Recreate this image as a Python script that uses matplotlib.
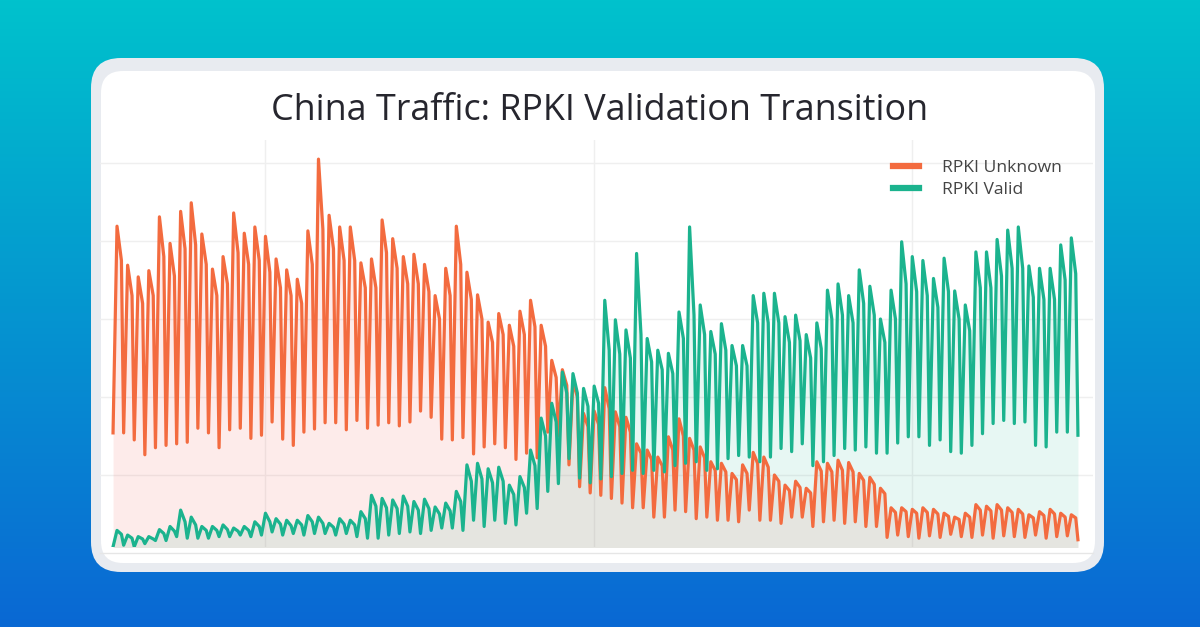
import numpy as np
import pandas as pd
import matplotlib
matplotlib.use("Agg")
import matplotlib.pyplot as plt
import matplotlib.dates as mdates
from matplotlib.patches import FancyBboxPatch
from matplotlib.lines import Line2D

# daily traffic, one trough per local night (relative units)
start = pd.Timestamp("2024-02-15 16:00")

unknown_low = [1.54, 1.54, 1.45, 1.26, 1.35, 1.38, 1.40, 1.42, 1.60, 1.54,
               1.35, 1.58, 1.60, 1.47, 1.51, 1.68, 1.46, 1.38, 1.55, 1.59,
               1.67, 1.67, 1.58, 1.70, 1.60, 1.64, 1.67, 1.63, 1.68, 1.82,
               1.74, 1.46, 1.45, 1.48, 1.27, 1.36, 1.40, 1.35, 1.20, 1.28,
               1.22, 1.55, 1.50, 1.13, 0.85, 0.77, 0.74, 0.70, 0.64, 0.58,
               0.58, 0.46, 0.46, 0.55, 0.53, 0.44, 0.46, 0.42, 0.42, 0.40,
               0.55, 0.42, 0.42, 0.38, 0.46, 0.46, 0.34, 0.40, 0.42, 0.38,
               0.40, 0.34, 0.34, 0.20, 0.23, 0.21, 0.19, 0.22, 0.20, 0.24,
               0.21, 0.20, 0.23, 0.19, 0.22, 0.21, 0.20, 0.23, 0.19, 0.21,
               0.22, 0.17]
unknown_peak = [4.19, 3.69, 3.54, 3.62, 4.31, 3.97, 4.38, 4.49, 4.09, 3.64,
                3.80, 4.36, 4.10, 4.18, 4.06, 3.77, 3.63, 3.51, 4.13, 5.05,
                4.33, 4.18, 4.18, 3.72, 3.77, 4.27, 4.03, 3.80, 3.83, 3.70,
                3.30, 3.65, 4.19, 3.60, 3.31, 2.96, 3.07, 2.92, 3.10, 3.24,
                2.92, 2.47, 2.35, 2.20, 1.79, 1.82, 2.12, 1.81, 1.74, 1.40,
                1.32, 1.23, 1.49, 1.72, 1.47, 1.36, 1.17, 1.15, 1.02, 1.13,
                1.29, 1.23, 1.00, 0.87, 0.92, 0.83, 1.17, 1.15, 1.19, 1.16,
                1.02, 0.97, 0.83, 0.58, 0.58, 0.56, 0.58, 0.56, 0.51, 0.46,
                0.51, 0.62, 0.60, 0.62, 0.58, 0.56, 0.49, 0.53, 0.56, 0.51,
                0.49]
unknown_late = [3.75, 3.30, 3.20, 3.30, 3.80, 3.55, 3.90, 3.95, 3.70, 3.30,
                3.45, 3.85, 3.70, 3.75, 3.60, 3.40, 3.30, 3.20, 3.70, 4.15,
                3.90, 3.75, 3.75, 3.40, 3.40, 3.85, 3.65, 3.45, 3.45, 3.35,
                3.00, 3.30, 3.70, 3.25, 3.00, 2.70, 2.80, 2.65, 2.80, 2.90,
                2.65, 2.25, 2.15, 2.00, 1.62, 1.65, 1.85, 1.62, 1.55, 1.28,
                1.20, 1.12, 1.32, 1.50, 1.32, 1.22, 1.06, 1.04, 0.94, 1.02,
                1.15, 1.10, 0.92, 0.80, 0.84, 0.77, 1.05, 1.04, 1.06, 1.04,
                0.93, 0.88, 0.76, 0.52, 0.53, 0.51, 0.52, 0.50, 0.47, 0.43,
                0.46, 0.55, 0.54, 0.55, 0.52, 0.50, 0.45, 0.48, 0.50, 0.46,
                0.45]

valid_low = [0.08, 0.10, 0.08, 0.12, 0.16, 0.16, 0.21, 0.19, 0.19, 0.19,
             0.21, 0.21, 0.23, 0.21, 0.23, 0.27, 0.23, 0.25, 0.23, 0.25,
             0.25, 0.23, 0.25, 0.21, 0.19, 0.19, 0.23, 0.25, 0.27, 0.25,
             0.29, 0.32, 0.32, 0.29, 0.42, 0.34, 0.42, 0.38, 0.36, 0.51,
             0.57, 0.79, 0.89, 1.21, 0.96, 0.90, 0.95, 0.98, 1.02, 1.06,
             1.02, 1.06, 1.04, 1.12, 1.15, 1.17, 1.06, 1.08, 1.21, 1.25,
             1.23, 1.17, 1.23, 1.34, 1.30, 1.40, 1.12, 1.17, 1.25, 1.34,
             1.32, 1.36, 1.28, 1.28, 1.41, 1.49, 1.49, 1.38, 1.45, 1.30,
             1.28, 1.38, 1.53, 1.66, 1.70, 1.66, 1.68, 1.38, 1.36, 1.55,
             1.55, 1.51]
valid_peak = [0.29, 0.23, 0.21, 0.21, 0.30, 0.34, 0.55, 0.46, 0.34, 0.34,
              0.36, 0.32, 0.34, 0.40, 0.51, 0.44, 0.42, 0.42, 0.48, 0.46,
              0.38, 0.44, 0.42, 0.53, 0.74, 0.70, 0.68, 0.73, 0.66, 0.69,
              0.59, 0.64, 0.79, 1.13, 1.15, 1.08, 1.10, 0.87, 0.98, 1.32,
              1.73, 1.92, 2.32, 2.30, 2.11, 2.14, 3.24, 2.99, 2.86, 3.84,
              2.75, 2.60, 2.56, 3.09, 4.18, 3.18, 2.84, 2.94, 2.66, 2.66,
              3.30, 3.33, 3.33, 3.03, 3.05, 2.80, 2.95, 3.37, 3.45, 3.30,
              3.63, 3.42, 3.00, 3.37, 3.99, 3.80, 3.75, 3.52, 3.78, 3.36,
              3.18, 3.86, 3.86, 4.02, 4.14, 4.18, 3.68, 3.65, 3.65, 3.95,
              4.04]
valid_late = [0.24, 0.19, 0.18, 0.18, 0.25, 0.28, 0.40, 0.36, 0.29, 0.29,
              0.30, 0.28, 0.29, 0.34, 0.40, 0.37, 0.35, 0.36, 0.40, 0.38,
              0.33, 0.37, 0.36, 0.44, 0.60, 0.58, 0.57, 0.60, 0.55, 0.57,
              0.50, 0.54, 0.66, 0.92, 0.95, 0.90, 0.92, 0.75, 0.84, 1.12,
              1.50, 1.68, 2.05, 2.05, 1.88, 1.92, 2.60, 2.55, 2.50, 2.80,
              2.45, 2.35, 2.30, 2.75, 3.05, 2.80, 2.55, 2.60, 2.40, 2.40,
              2.95, 2.95, 2.95, 2.70, 2.72, 2.50, 2.62, 3.00, 3.05, 2.95,
              3.20, 3.05, 2.70, 3.00, 3.45, 3.35, 3.30, 3.15, 3.35, 3.00,
              2.85, 3.40, 3.40, 3.55, 3.65, 3.65, 3.28, 3.25, 3.25, 3.50,
              3.58]

ORANGE = "#F36B3F"
GREEN = "#1BB38E"


def build(low, peak, late):
    t, v = [], []
    days = pd.date_range(start, periods=len(low), freq="D")
    for i in range(len(peak)):
        t += [days[i], days[i] + pd.Timedelta(hours=9), days[i] + pd.Timedelta(hours=19)]
        v += [low[i], peak[i], late[i]]
    t.append(days[-1])
    v.append(low[-1])
    return pd.DatetimeIndex(t), np.array(v)


t_unk, v_unk = build(unknown_low, unknown_peak, unknown_late)
t_val, v_val = build(valid_low, valid_peak, valid_late)

W, H = 1200, 627
fig = plt.figure(figsize=(W / 100, H / 100), dpi=100)

# background gradient + card
bg = fig.add_axes([0, 0, 1, 1])
top = np.array([0, 194, 204]) / 255
bot = np.array([10, 104, 212]) / 255
frac = np.linspace(0, 1, 256)[:, None, None]
grad = top * (1 - frac) + bot * frac
bg.imshow(np.repeat(grad, 4, axis=1), extent=[0, W, H, 0], aspect="auto")
bg.add_patch(FancyBboxPatch((91, 58), 1013, 514, boxstyle="round,pad=0,rounding_size=30",
                            fc="#E8EBF0", ec="none"))
bg.add_patch(FancyBboxPatch((101, 71), 994, 492, boxstyle="round,pad=0,rounding_size=22",
                            fc="white", ec="none"))
bg.set_xlim(0, W)
bg.set_ylim(H, 0)
bg.axis("off")

# chart area
ax = fig.add_axes([100 / W, (H - 547) / H, 993 / W, 407 / H])
ax.set_facecolor("none")
ax.fill_between(t_unk, v_unk, 0, color="#F0605A", alpha=0.12, lw=0)
ax.fill_between(t_val, v_val, 0, color=GREEN, alpha=0.10, lw=0)
ax.plot(t_unk, v_unk, color=ORANGE, lw=2.3, solid_joinstyle="round")
ax.plot(t_val, v_val, color=GREEN, lw=2.3, solid_joinstyle="round")

ax.set_xlim(start - pd.Timedelta(hours=29.5), start + pd.Timedelta(days=92.42))
ax.set_ylim(0.077, 5.295)
ax.set_yticks([1, 2, 3, 4, 5])
ax.xaxis.set_major_locator(mdates.MonthLocator())
ax.grid(True, color="#EFEFEF", lw=1)
ax.set_axisbelow(True)
ax.tick_params(length=0, labelbottom=False, labelleft=False)
for s in ax.spines.values():
    s.set_visible(False)
ax.axhline(0, color="#E6E6E6", lw=1, clip_on=False)

fig.text(0.5, 1 - 111 / H, "China Traffic: RPKI Validation Transition",
         ha="center", va="center", fontsize=25.8, color="#26262E", family="Open Sans")

handles = [Line2D([], [], color=ORANGE, lw=4.5), Line2D([], [], color=GREEN, lw=4.5)]
ax.legend(handles, ["RPKI Unknown", "RPKI Valid"], loc="upper left",
          bbox_to_anchor=(893 / W, 1 - 160 / H), bbox_transform=fig.transFigure,
          frameon=False, borderpad=0, borderaxespad=0, handlelength=1.5,
          handletextpad=1.3, labelspacing=0.3,
          prop={"family": "Open Sans", "size": 12.6}, labelcolor="#444444")

fig.savefig("out.png", dpi=100)
